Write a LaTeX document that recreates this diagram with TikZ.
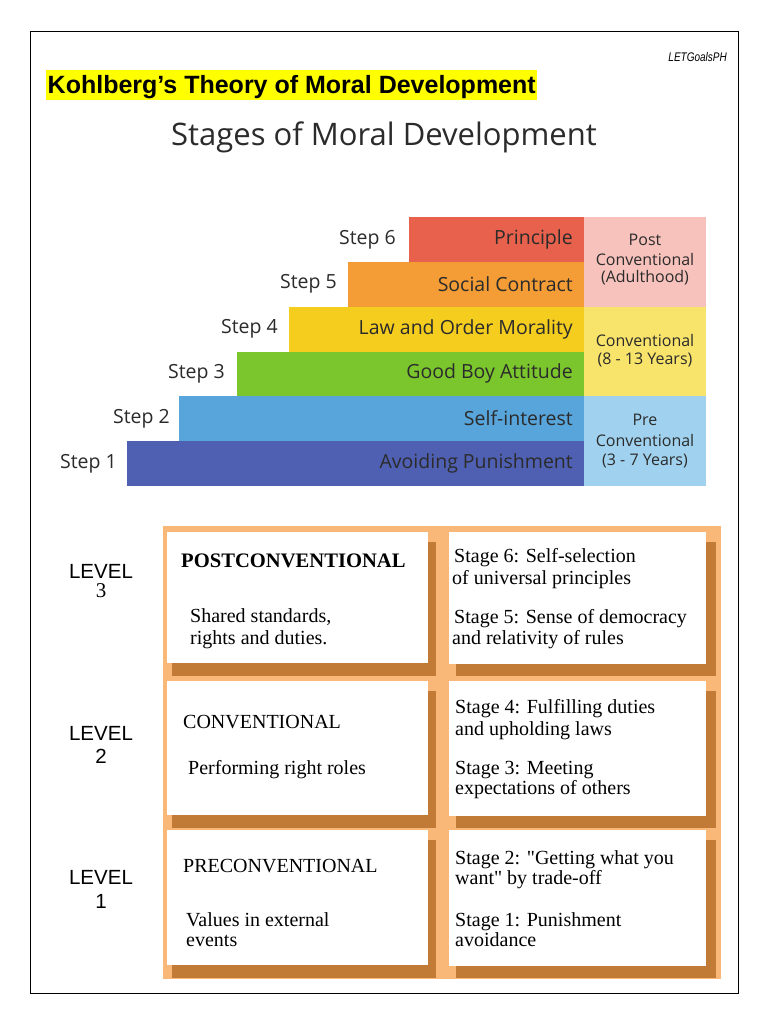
\documentclass[tikz,border=0pt]{standalone}
\usepackage{fontspec}
\setmainfont{Liberation Serif}[Ligatures=TeXOff]
\newfontfamily\arialf{Liberation Sans}
\newfontfamily\osans{Open Sans}
\definecolor{cSix}{HTML}{E8614D}
\definecolor{cFive}{HTML}{F49C36}
\definecolor{cFour}{HTML}{F5CD1F}
\definecolor{cThree}{HTML}{7BC62D}
\definecolor{cTwo}{HTML}{58A5DC}
\definecolor{cOne}{HTML}{4F60B3}
\definecolor{pPink}{HTML}{F7C2BC}
\definecolor{pYel}{HTML}{F8E46B}
\definecolor{pBlue}{HTML}{A0D2EF}
\definecolor{peach}{HTML}{F9B877}
\definecolor{brownS}{HTML}{C27B37}
\definecolor{barText}{HTML}{2B2B2B}
\definecolor{hiYel}{HTML}{FFFF00}
\begin{document}
\begin{tikzpicture}[x=1pt,y=-1pt,
  bar/.style={rectangle, draw=none, inner sep=0, anchor=north west, minimum height=44.8pt},
  panel/.style={rectangle, draw=none, inner sep=0, anchor=north west, minimum width=122pt, minimum height=89.6pt},
  bartxt/.style={anchor=east, inner sep=0, text=barText, font=\osans\fontsize{19.5}{22}\selectfont},
  steptxt/.style={anchor=east, inner sep=0, text=barText, font=\osans\fontsize{19.5}{22}\selectfont},
  paneltxt/.style={anchor=center, inner sep=0, text=barText, font=\osans\fontsize{16}{19}\selectfont},
  cell/.style={rectangle, draw=none, fill=white, inner sep=0, anchor=north west},
  shadow/.style={fill=brownS},
  celltxt/.style={anchor=base west, inner sep=0, font=\fontsize{20}{22}\selectfont},
  lvltxt/.style={anchor=center, inner sep=0, font=\arialf\fontsize{20.5}{22}\selectfont}
]
\useasboundingbox (0,0) rectangle (768,1024);
\fill[white] (0,0) rectangle (768,1024);
\draw[line width=0.9pt] (30,31) rectangle (738,993);

% header
\node[anchor=east, inner sep=0, font=\arialf\itshape\fontsize{12.5}{14}\selectfont] (brand) at (727,57) {\scalebox{0.8}[1]{LETGoalsPH}};
\fill[hiYel] (46,70) rectangle (537,100);
\node[anchor=base west, inner sep=0, font=\arialf\bfseries\fontsize{25}{28}\selectfont] (title) at (47.5,94) {Kohlberg’s Theory of Moral Development};
\node[anchor=base, inner sep=0, text=barText, font=\osans\fontsize{31}{36}\selectfont] (sub) at (384,146) {Stages of Moral Development};

% staircase
\node[bar, fill=cSix, minimum width=175pt] (s6) at (409,217) {};
\node[bar, fill=cFive, minimum width=236pt] (s5) at (348,261.8) {};
\node[bar, fill=cFour, minimum width=295pt] (s4) at (289,306.6) {};
\node[bar, fill=cThree, minimum width=347pt] (s3) at (237,351.4) {};
\node[bar, fill=cTwo, minimum width=405pt] (s2) at (179,396.2) {};
\node[bar, fill=cOne, minimum width=457pt] (s1) at (127,441) {};

\node[panel, fill=pPink] (pp) at (584,217) {};
\node[panel, fill=pYel] (py) at (584,306.6) {};
\node[panel, fill=pBlue] (pb) at (584,396.2) {};

\node[bartxt] (t6) at (573,239.4) {Principle};
\node[bartxt] (t5) at (573,284.2) {Social Contract};
\node[bartxt] (t4) at (573,329) {Law and Order Morality};
\node[bartxt] (t3) at (573,373.8) {Good Boy Attitude};
\node[bartxt] (t2) at (573,418.6) {Self-interest};
\node[bartxt] (t1) at (573,463.4) {Avoiding Punishment};

\node[steptxt] (l6) at (396,239.4) {Step 6};
\node[steptxt] (l5) at (337,284.2) {Step 5};
\node[steptxt] (l4) at (278,329) {Step 4};
\node[steptxt] (l3) at (225,373.8) {Step 3};
\node[steptxt] (l2) at (170,418.6) {Step 2};
\node[steptxt] (l1) at (117,463.4) {Step 1};

\node[paneltxt] (pp1) at (645,240) {Post};
\node[paneltxt] (pp2) at (645,259) {Conventional};
\node[paneltxt] (pp3) at (645,278) {(Adulthood)};
\node[paneltxt] (py1) at (645,340) {Conventional};
\node[paneltxt] (py2) at (645,360) {(8 - 13 Years)};
\node[paneltxt] (pb1) at (645,420) {Pre};
\node[paneltxt] (pb2) at (645,440) {Conventional};
\node[paneltxt] (pb3) at (645,461) {(3 - 7 Years)};

% lower table
\fill[peach] (163,526) rectangle (721,979);
\foreach \t/\b in {532/663, 681/815, 830/965}{
  \fill[shadow] (172,\t+10) rectangle (436,\b+13);
  \fill[shadow] (456,\t+10) rectangle (716,\b+13);
}
\node[cell, minimum width=261pt, minimum height=131pt] (c31) at (167,532) {};
\node[cell, minimum width=257pt, minimum height=132pt] (c32) at (449,532) {};
\node[cell, minimum width=261pt, minimum height=134pt] (c21) at (167,681) {};
\node[cell, minimum width=257pt, minimum height=135pt] (c22) at (449,681) {};
\node[cell, minimum width=261pt, minimum height=135pt] (c11) at (167,830) {};
\node[cell, minimum width=257pt, minimum height=136pt] (c12) at (449,830) {};

\node[celltxt, font=\bfseries\fontsize{20.6}{22}\selectfont] (h3) at (181,567) {POSTCONVENTIONAL};
\node[celltxt] (a31) at (190,622) {Shared standards,};
\node[celltxt] (a32) at (190,644) {rights and duties.};
\node[celltxt] (b31) at (454,562) {Stage 6: Self-selection};
\node[celltxt] (b32) at (452,584) {of universal principles};
\node[celltxt] (b33) at (454,623) {Stage 5: Sense of democracy};
\node[celltxt] (b34) at (452,644) {and relativity of rules};

\node[celltxt] (h2) at (183,728) {CONVENTIONAL};
\node[celltxt] (a21) at (188,774) {Performing right roles};
\node[celltxt] (b21) at (455,713) {Stage 4: Fulfilling duties};
\node[celltxt] (b22) at (455,735) {and upholding laws};
\node[celltxt] (b23) at (455,774) {Stage 3: Meeting};
\node[celltxt] (b24) at (455,794) {expectations of others};

\node[celltxt] (h1) at (183,872) {PRECONVENTIONAL};
\node[celltxt] (a11) at (186,926) {Values in external};
\node[celltxt] (a12) at (186,946) {events};
\node[celltxt] (b11) at (455,864) {Stage 2: "Getting what you};
\node[celltxt] (b12) at (455,884) {want" by trade-off};
\node[celltxt] (b13) at (455,926) {Stage 1: Punishment};
\node[celltxt] (b14) at (455,946) {avoidance};

\node[lvltxt] (v3a) at (101,571) {LEVEL};
\node[lvltxt, font=\fontsize{21}{22}\selectfont] (v3b) at (101,591) {3};
\node[lvltxt] (v2a) at (101,733) {LEVEL};
\node[lvltxt] (v2b) at (101,756) {2};
\node[lvltxt] (v1a) at (101,877) {LEVEL};
\node[lvltxt] (v1b) at (101,901) {1};
\end{tikzpicture}
\end{document}
